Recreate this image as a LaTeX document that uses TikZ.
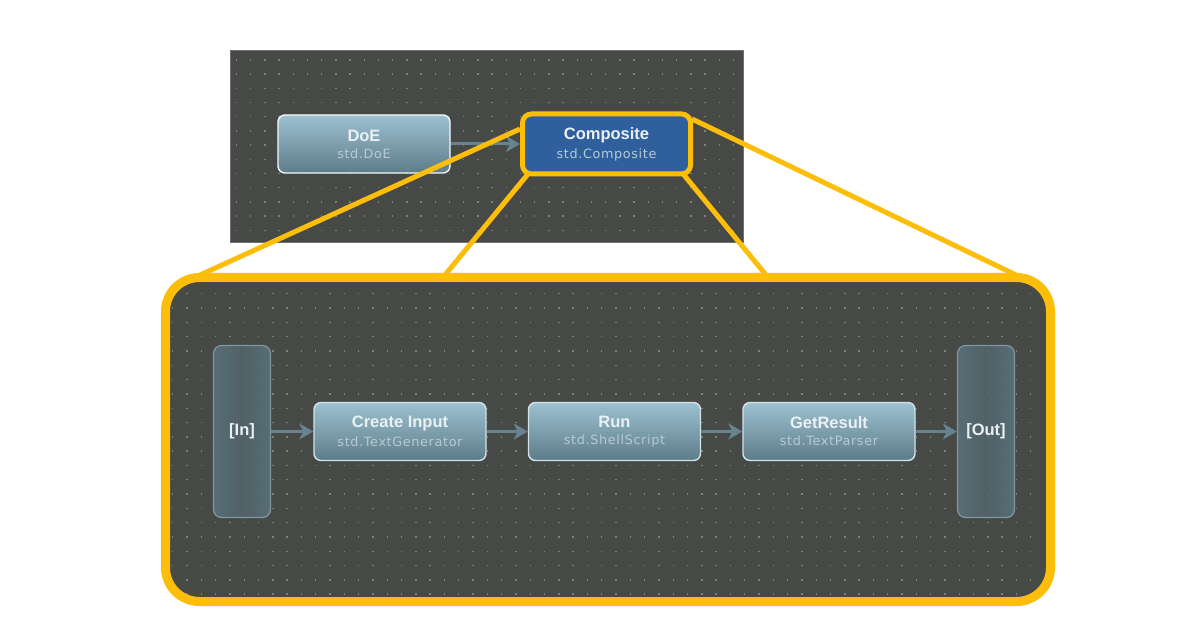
\documentclass[tikz,border=0pt]{standalone}
\usepackage{fontspec}
\setmainfont{Liberation Sans}
\newfontfamily\subfam[LetterSpace=5]{DejaVu Sans}
\usetikzlibrary{arrows.meta}
\definecolor{panelc}{HTML}{474947}
\definecolor{dotc}{HTML}{7E8276}
\definecolor{gold}{HTML}{FDBE0A}
\definecolor{boxtop}{HTML}{9DC1D1}
\definecolor{boxbot}{HTML}{5D7C89}
\definecolor{arrowc}{HTML}{66838F}
\definecolor{titlec}{HTML}{EAF1F4}
\definecolor{subc}{HTML}{B5CAD4}
\definecolor{bluec}{HTML}{2F5F9C}
\newcommand{\ttl}{\fontsize{16.5}{19}\selectfont\bfseries\color{titlec}}
\newcommand{\sbt}{\fontsize{12.8}{15}\selectfont\subfam\color{subc}}
\tikzset{
  block/.style={rounded corners=7pt,minimum width=172pt,minimum height=58pt,inner sep=0pt,
    draw=#1,line width=1.4pt,top color=boxtop,bottom color=boxbot,align=center},
  block/.default={boxtop!45!white},
  portbox/.style={rounded corners=8pt,minimum width=57pt,minimum height=172pt,inner sep=0pt,
    draw=boxtop!65!panelc,line width=1.2pt,left color=boxbot!85!panelc,right color=boxbot!85!panelc,
    middle color=boxbot!55!panelc,fill opacity=.85,text opacity=1,align=center},
  flow/.style={draw=arrowc,line width=3pt,-{Stealth[length=14pt,width=16pt,inset=4pt]}},
  zoomline/.style={draw=gold,line width=5pt},
  sheet/.style={fill=panelc,inner sep=0pt},
  griddot/.style={fill=dotc}
}
\begin{document}
\begin{tikzpicture}[x=1pt,y=-1pt]
\useasboundingbox (0,0) rectangle (1200,628);
\fill[white] (0,0) rectangle (1200,628);
% upper sheet
\node[sheet,draw=gray!70!panelc,line width=.6pt,minimum width=513pt,minimum height=192pt] (upper) at (486.5,146) {};
\foreach \i in {0,...,35}\foreach \j in {0,...,12}
  \fill[griddot] ({236.5+14.2*\i-.7},{60+14.2*\j-.7}) rectangle ++(1.4,1.4);
% lower sheet
\node[sheet,draw=gold,line width=9pt,rounded corners=34pt,minimum width=885pt,minimum height=324pt] (lower) at (608,439.5) {};
\begin{scope}
\clip[rounded corners=30pt] (170,282) rectangle (1046,597);
\foreach \i in {0,...,60}\foreach \j in {-3,...,18}
  \fill[griddot] ({172.7+14.3*\i-.7},{336.7+14.3*\j-.7}) rectangle ++(1.4,1.4);
\end{scope}
% upper nodes
\node[block=white!90!boxtop] (doe) at (364,144) {\ttl DoE\\[5pt]\sbt std.DoE};
\node[draw=gold,line width=5pt,fill=bluec,rounded corners=9pt,minimum width=168pt,minimum height=60pt,inner sep=0pt,align=center] (composite) at (606.5,144)
  {\ttl Composite\\[5pt]\sbt std.Composite};
\draw[flow] (doe) -- (composite);
% zoom lines
\coordinate (zA) at (520,129);
\coordinate (zB) at (528,174);
\coordinate (zC) at (684,175);
\coordinate (zD) at (692,119);
\coordinate (lA) at (200,275);
\coordinate (lB) at (445,275);
\coordinate (lC) at (766,275);
\coordinate (lD) at (1016,275);
\draw[zoomline] (zA) -- (lA);
\draw[zoomline] (zB) -- (lB);
\draw[zoomline] (zC) -- (lC);
\draw[zoomline] (zD) -- (lD);
% lower nodes
\node[portbox] (in) at (242,431.5) {\ttl [In]};
\node[block] (create) at (400,431.5) {\ttl Create Input\\[5pt]\sbt std.TextGenerator};
\node[block] (run) at (614.5,431.5) {\ttl Run\\[5pt]\sbt std.ShellScript};
\node[block] (get) at (829,431.5) {\ttl GetResult\\[5pt]\sbt std.TextParser};
\node[portbox] (out) at (986,431.5) {\ttl [Out]};
\draw[flow] (in) -- (create);
\draw[flow] (create) -- (run);
\draw[flow] (run) -- (get);
\draw[flow] (get) -- (out);
\end{tikzpicture}
\end{document}
